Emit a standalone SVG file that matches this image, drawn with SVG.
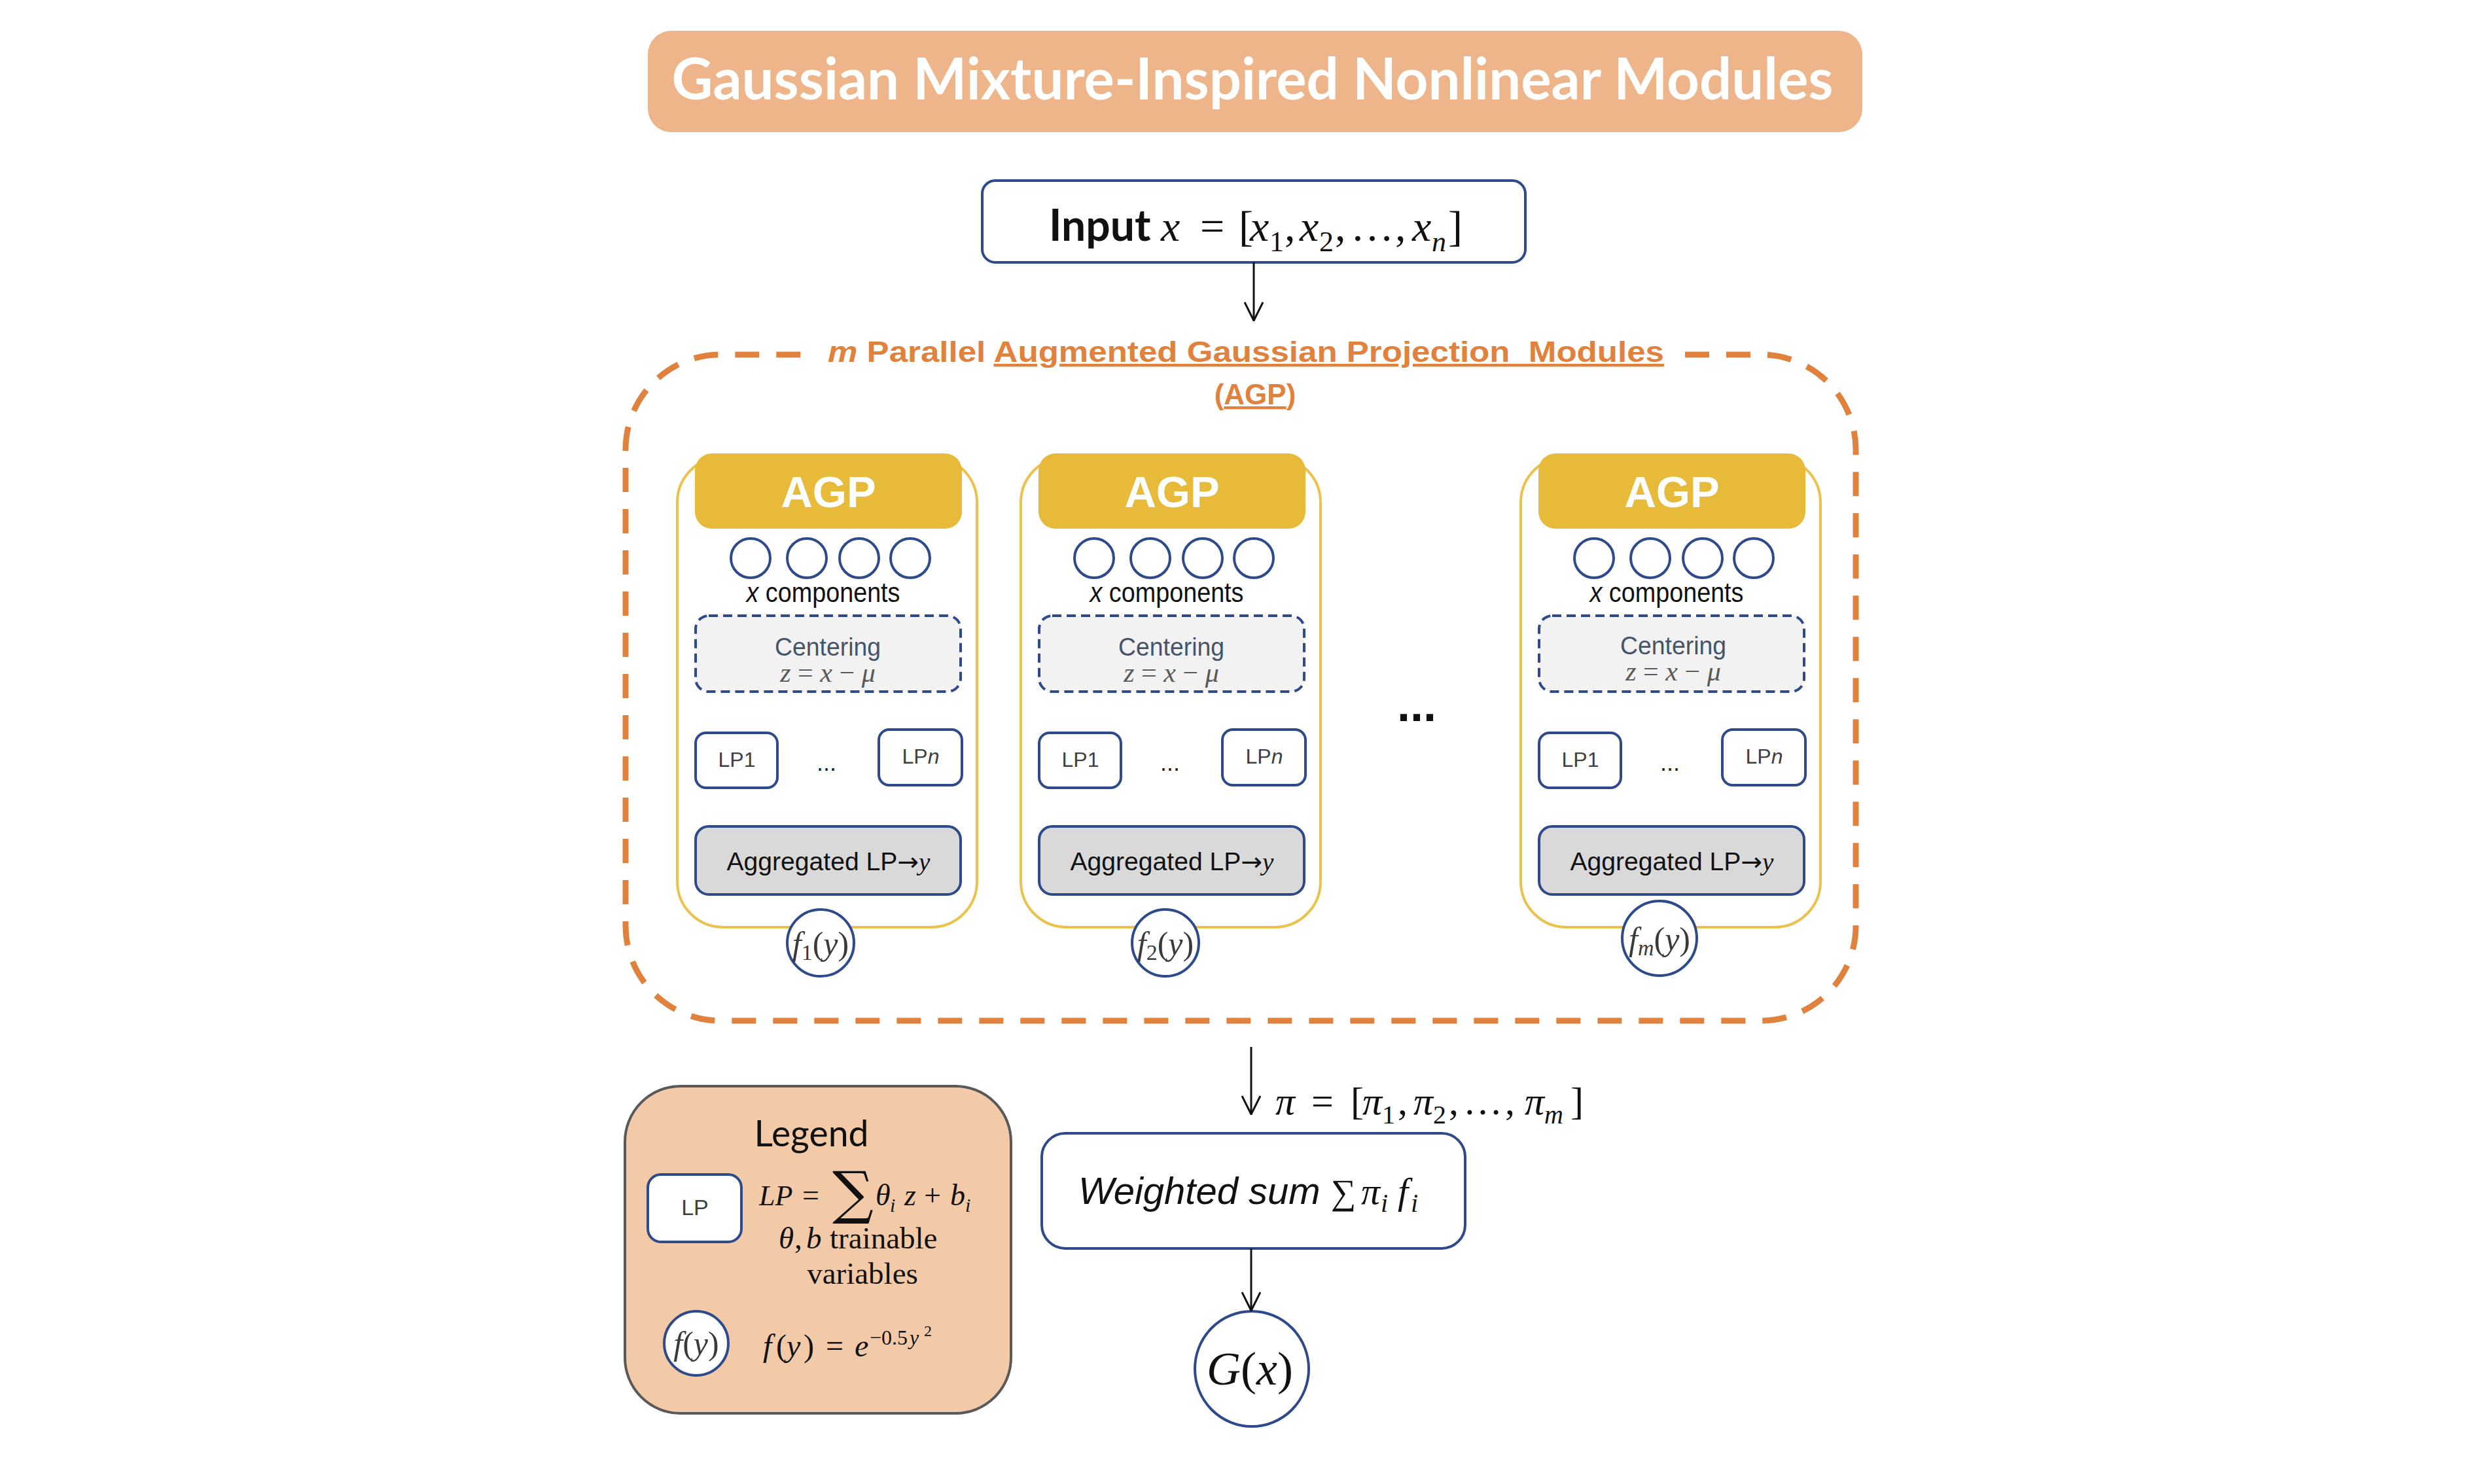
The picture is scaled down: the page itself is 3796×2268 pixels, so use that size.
<svg xmlns="http://www.w3.org/2000/svg" width="3796" height="2268" viewBox="0 0 3796 2268">
<style>
  .sans { font-family: "Liberation Sans", Arial, sans-serif; }
  .serif { font-family: "Liberation Serif", "DejaVu Serif", serif; }
  .it { font-style: italic; }
  .arrowg { font-family: "DejaVu Sans", sans-serif; }
  .title { font-family: Lato, "Open Sans", sans-serif; font-weight: 700; font-size: 88px; fill: #ffffff; }
  .ctitle { font-family: "Liberation Sans", Arial, sans-serif; font-weight: 700; font-size: 44px; fill: #E0823D; }
  .mod { fill: #ffffff; stroke: #EAC24D; stroke-width: 4; }
  .hdr { fill: #E8BA3A; }
  .hdrt { font-family: "Liberation Sans", Arial, sans-serif; font-weight: 700; font-size: 67px; fill: #ffffff; text-anchor: middle; }
  .xc { fill: #ffffff; stroke: #2E4A8B; stroke-width: 4; }
  .comp { font-family: "Liberation Sans", Arial, sans-serif; font-size: 42px; fill: #111111; text-anchor: middle; }
  .cent { fill: #F2F2F2; stroke: #2E4A8B; stroke-width: 4; stroke-dasharray: 14 8; }
  .centt { font-family: "Liberation Sans", Arial, sans-serif; font-size: 38px; fill: #44546A; text-anchor: middle; }
  .centm { font-family: "Liberation Serif", "DejaVu Serif", serif; font-size: 42px; fill: #595959; text-anchor: middle; }
  .lp { fill: #ffffff; stroke: #2E4A8B; stroke-width: 4; }
  .lpt { font-family: "Liberation Sans", Arial, sans-serif; font-size: 32px; fill: #404040; text-anchor: middle; }
  .dots { font-family: "Liberation Sans", Arial, sans-serif; font-size: 36px; fill: #222222; text-anchor: middle; }
  .agg { fill: #D9D9D9; stroke: #2E4A8B; stroke-width: 4; }
  .aggt { font-family: "Liberation Sans", Arial, sans-serif; font-size: 38px; fill: #111111; text-anchor: middle; }
  .fc { fill: #ffffff; stroke: #2E4A8B; stroke-width: 4; }
  .fmt { font-family: "Liberation Serif", "DejaVu Serif", serif; font-size: 50px; fill: #3A3A3A; text-anchor: middle; }
  .box { fill: #ffffff; stroke: #2E4A8B; stroke-width: 4; }
  .math { font-family: "Liberation Serif", "DejaVu Serif", serif; fill: #111111; }
  .conn { stroke: #111111; stroke-width: 3; fill: none; }
</style>
<defs>
  <marker id="arr" viewBox="0 0 30 30" refX="29" refY="15" markerWidth="30" markerHeight="30" markerUnits="userSpaceOnUse" orient="auto">
    <path d="M1,1 L29,15 L1,29" fill="none" stroke="#111111" stroke-width="3"/>
  </marker>
</defs>

<g id="title">
  <rect x="990" y="47" width="1856" height="155" rx="36" fill="#EDB589"/>
  <text class="title" x="1914" y="152" text-anchor="middle" textLength="1775" lengthAdjust="spacingAndGlyphs">Gaussian Mixture-Inspired Nonlinear Modules</text>
</g>

<g id="input">
  <rect class="box" x="1501" y="276" width="830" height="125" rx="20"/>
  <text class="math" font-size="66"><tspan x="1603" y="368" style="font-family: Lato, 'Liberation Sans', sans-serif; font-weight:700;" font-size="66">Input</tspan><tspan x="1774" y="368" class="it">x</tspan><tspan x="1834" y="368">=</tspan><tspan x="1893" y="368">[</tspan><tspan x="1910" y="368" class="it">x</tspan><tspan x="1940" y="384" font-size="44">1</tspan><tspan x="1963" y="368">,</tspan><tspan x="1986" y="368" class="it">x</tspan><tspan x="2016" y="384" font-size="44">2</tspan><tspan x="2040" y="368">,</tspan><tspan x="2064" y="368">…</tspan><tspan x="2132" y="368">,</tspan><tspan x="2158" y="368" class="it">x</tspan><tspan x="2188" y="384" font-size="44" class="it">n</tspan><tspan x="2213" y="368">]</tspan></text>
</g>

<g id="agp-container">
  <path d="M2575,542 L2691,542 A145,145 0 0 1 2836,687 L2836,1415 A145,145 0 0 1 2691,1560 L1101,1560 A145,145 0 0 1 956,1415 L956,687 A145,145 0 0 1 1101,542 L1242,542" fill="none" stroke="#E0823D" stroke-width="9" stroke-dasharray="37 26"/>
  <text class="ctitle" x="1265" y="553" textLength="1278" lengthAdjust="spacingAndGlyphs" xml:space="preserve"><tspan class="it">m</tspan> Parallel <tspan text-decoration="underline">Augmented Gaussian Projection  Modules</tspan></text>
  <text class="ctitle" x="1918" y="618" text-anchor="middle">(<tspan text-decoration="underline">AGP</tspan>)</text>
</g>

<g id="agp1">
  <rect class="mod" x="1035" y="698" width="458" height="719" rx="70"/>
  <rect class="hdr" x="1062" y="693" width="408" height="115" rx="26"/>
  <text class="hdrt" x="1266" y="775">AGP</text>
  <circle class="xc" cx="1147" cy="853" r="30"/>
  <circle class="xc" cx="1233" cy="853" r="30"/>
  <circle class="xc" cx="1313" cy="853" r="30"/>
  <circle class="xc" cx="1391" cy="853" r="30"/>
  <text class="comp" x="1258" y="920" textLength="235" lengthAdjust="spacingAndGlyphs"><tspan class="it">x</tspan> components</text>
  <rect class="cent" x="1063" y="941" width="405" height="116" rx="20"/>
  <text class="centt" x="1265" y="1002" textLength="162" lengthAdjust="spacingAndGlyphs">Centering</text>
  <text class="centm" x="1265" y="1042"><tspan class="it">z</tspan> = <tspan class="it">x</tspan> − <tspan class="it">μ</tspan></text>
  <rect class="lp" x="1063" y="1120" width="125" height="84" rx="16"/>
  <text class="lpt" x="1126" y="1172">LP1</text>
  <text class="dots" x="1263" y="1178">...</text>
  <rect class="lp" x="1343" y="1115" width="127" height="85" rx="16"/>
  <text class="lpt" x="1407" y="1167">LP<tspan class="it">n</tspan></text>
  <rect class="agg" x="1063" y="1263" width="405" height="104" rx="20"/>
  <text class="aggt" x="1266" y="1330" textLength="311" lengthAdjust="spacingAndGlyphs">Aggregated LP<tspan class="arrowg">→</tspan><tspan class="it serif">y</tspan></text>
  <circle class="fc" cx="1254" cy="1441" r="51"/>
  <text class="fmt" x="1254" y="1459"><tspan class="it">f</tspan><tspan font-size="34" dy="8">1</tspan><tspan dy="-8">(</tspan><tspan class="it">y</tspan>)</text>
</g>

<g id="agp2" transform="translate(525,0)">
  <rect class="mod" x="1035" y="698" width="458" height="719" rx="70"/>
  <rect class="hdr" x="1062" y="693" width="408" height="115" rx="26"/>
  <text class="hdrt" x="1266" y="775">AGP</text>
  <circle class="xc" cx="1147" cy="853" r="30"/>
  <circle class="xc" cx="1233" cy="853" r="30"/>
  <circle class="xc" cx="1313" cy="853" r="30"/>
  <circle class="xc" cx="1391" cy="853" r="30"/>
  <text class="comp" x="1258" y="920" textLength="235" lengthAdjust="spacingAndGlyphs"><tspan class="it">x</tspan> components</text>
  <rect class="cent" x="1063" y="941" width="405" height="116" rx="20"/>
  <text class="centt" x="1265" y="1002" textLength="162" lengthAdjust="spacingAndGlyphs">Centering</text>
  <text class="centm" x="1265" y="1042"><tspan class="it">z</tspan> = <tspan class="it">x</tspan> − <tspan class="it">μ</tspan></text>
  <rect class="lp" x="1063" y="1120" width="125" height="84" rx="16"/>
  <text class="lpt" x="1126" y="1172">LP1</text>
  <text class="dots" x="1263" y="1178">...</text>
  <rect class="lp" x="1343" y="1115" width="127" height="85" rx="16"/>
  <text class="lpt" x="1407" y="1167">LP<tspan class="it">n</tspan></text>
  <rect class="agg" x="1063" y="1263" width="405" height="104" rx="20"/>
  <text class="aggt" x="1266" y="1330" textLength="311" lengthAdjust="spacingAndGlyphs">Aggregated LP<tspan class="arrowg">→</tspan><tspan class="it serif">y</tspan></text>
  <circle class="fc" cx="1256" cy="1441" r="51"/>
  <text class="fmt" x="1256" y="1459"><tspan class="it">f</tspan><tspan font-size="34" dy="8">2</tspan><tspan dy="-8">(</tspan><tspan class="it">y</tspan>)</text>
</g>

<text id="ellipsis" class="sans" x="2165" y="1102" font-size="72" font-weight="700" text-anchor="middle" fill="#111111">...</text>

<g id="agp3" transform="translate(1289,0)">
  <rect class="mod" x="1035" y="698" width="458" height="719" rx="70"/>
  <rect class="hdr" x="1062" y="693" width="408" height="115" rx="26"/>
  <text class="hdrt" x="1266" y="775">AGP</text>
  <circle class="xc" cx="1147" cy="853" r="30"/>
  <circle class="xc" cx="1233" cy="853" r="30"/>
  <circle class="xc" cx="1313" cy="853" r="30"/>
  <circle class="xc" cx="1391" cy="853" r="30"/>
  <text class="comp" x="1258" y="920" textLength="235" lengthAdjust="spacingAndGlyphs"><tspan class="it">x</tspan> components</text>
  <rect class="cent" x="1063" y="941" width="405" height="116" rx="20"/>
  <text class="centt" x="1268" y="1000" textLength="162" lengthAdjust="spacingAndGlyphs">Centering</text>
  <text class="centm" x="1268" y="1040"><tspan class="it">z</tspan> = <tspan class="it">x</tspan> − <tspan class="it">μ</tspan></text>
  <rect class="lp" x="1063" y="1120" width="125" height="84" rx="16"/>
  <text class="lpt" x="1126" y="1172">LP1</text>
  <text class="dots" x="1263" y="1178">...</text>
  <rect class="lp" x="1343" y="1115" width="127" height="85" rx="16"/>
  <text class="lpt" x="1407" y="1167">LP<tspan class="it">n</tspan></text>
  <rect class="agg" x="1063" y="1263" width="405" height="104" rx="20"/>
  <text class="aggt" x="1266" y="1330" textLength="311" lengthAdjust="spacingAndGlyphs">Aggregated LP<tspan class="arrowg">→</tspan><tspan class="it serif">y</tspan></text>
  <circle class="fc" cx="1247" cy="1434" r="57"/>
  <text class="fmt" x="1247" y="1452"><tspan class="it">f</tspan><tspan class="it" font-size="34" dy="8">m</tspan><tspan dy="-8">(</tspan><tspan class="it">y</tspan>)</text>
</g>

<g id="legend">
  <rect x="955" y="1660" width="590" height="500" rx="85" fill="#F3CAA8" stroke="#595959" stroke-width="4"/>
  <text x="1240" y="1752" text-anchor="middle" font-size="56" fill="#111111" style="font-family: Lato, 'Liberation Sans', sans-serif;" textLength="175" lengthAdjust="spacingAndGlyphs">Legend</text>
  <rect class="box" x="990" y="1795" width="143" height="103" rx="20"/>
  <text class="sans" x="1062" y="1857" text-anchor="middle" font-size="34" fill="#404040">LP</text>
  <text class="math" font-size="46"><tspan x="1160" y="1842" class="it" font-size="44">LP</tspan><tspan x="1226" y="1842">=</tspan><tspan x="1272" y="1853" font-size="88" style="font-family: 'DejaVu Serif', serif;">∑</tspan><tspan x="1338" y="1842" class="it">θ</tspan><tspan x="1360" y="1852" font-size="30" class="it">i</tspan><tspan x="1382" y="1842" class="it">z</tspan><tspan x="1412" y="1842">+</tspan><tspan x="1452" y="1842" class="it">b</tspan><tspan x="1475" y="1852" font-size="30" class="it">i</tspan></text>
  <text class="math" font-size="47"><tspan x="1190" y="1908" class="it">θ</tspan><tspan x="1214" y="1908">,</tspan><tspan x="1232" y="1908" class="it">b</tspan><tspan x="1268" y="1908">trainable</tspan></text>
  <text class="math" x="1318" y="1962" font-size="47" text-anchor="middle">variables</text>
  <circle class="fc" cx="1064" cy="2053" r="49"/>
  <text class="fmt" x="1064" y="2070" font-size="44"><tspan class="it">f</tspan>(<tspan class="it">y</tspan>)</text>
  <text class="math" font-size="48"><tspan x="1166" y="2073" class="it">f</tspan><tspan x="1186" y="2073">(</tspan><tspan x="1202" y="2073" class="it">y</tspan><tspan x="1228" y="2073">)</tspan><tspan x="1262" y="2073">=</tspan><tspan x="1306" y="2073" class="it">e</tspan><tspan x="1329" y="2055" font-size="32">−0.5</tspan><tspan x="1390" y="2055" font-size="32" class="it">y</tspan><tspan x="1412" y="2042" font-size="24">2</tspan></text>
</g>

<g id="pi-label">
  <text class="math" font-size="60"><tspan x="1949" y="1703" class="it">π</tspan><tspan x="2004" y="1703">=</tspan><tspan x="2064" y="1703">[</tspan><tspan x="2082" y="1703" class="it">π</tspan><tspan x="2112" y="1717" font-size="40">1</tspan><tspan x="2136" y="1703">,</tspan><tspan x="2160" y="1703" class="it">π</tspan><tspan x="2190" y="1717" font-size="40">2</tspan><tspan x="2214" y="1703">,</tspan><tspan x="2236" y="1703">…</tspan><tspan x="2300" y="1703">,</tspan><tspan x="2330" y="1703" class="it">π</tspan><tspan x="2360" y="1717" font-size="40" class="it">m</tspan><tspan x="2400" y="1703">]</tspan></text>
</g>

<g id="weighted-sum">
  <rect class="box" x="1592" y="1732" width="647" height="176" rx="36"/>
  <text font-size="58" fill="#111111"><tspan x="1648" y="1840" class="sans it">Weighted sum</tspan><tspan x="2034" y="1840" class="serif" font-size="54">∑</tspan><tspan x="2080" y="1840" class="serif it">π</tspan><tspan x="2110" y="1852" class="serif it" font-size="40">i</tspan><tspan x="2136" y="1840" class="serif it">f</tspan><tspan x="2156" y="1852" class="serif it" font-size="40">i</tspan></text>
</g>

<g id="gx">
  <ellipse class="box" cx="1913" cy="2092" rx="87" ry="88"/>
  <text class="math" x="1910" y="2116" font-size="72" text-anchor="middle"><tspan class="it">G</tspan>(<tspan class="it">x</tspan>)</text>
</g>

<g id="connectors">
  <line class="conn" x1="1916" y1="401" x2="1916" y2="490" marker-end="url(#arr)"/>
  <line class="conn" x1="1912" y1="1600" x2="1912" y2="1703" marker-end="url(#arr)"/>
  <line class="conn" x1="1912" y1="1908" x2="1912" y2="2003" marker-end="url(#arr)"/>
</g>
</svg>
